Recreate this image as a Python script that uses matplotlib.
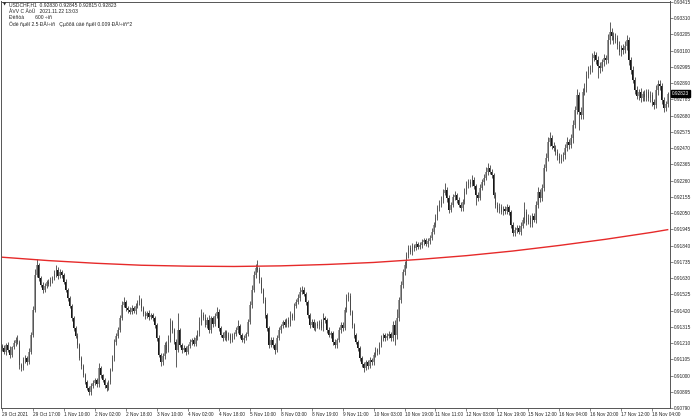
import numpy as np
import matplotlib
matplotlib.use("Agg")
import matplotlib.pyplot as plt
import matplotlib.transforms as mtransforms

plt.rcParams['font.family'] = ['Liberation Sans', 'DejaVu Sans']

# USDCHF H1, closes in points (price * 1e5), one per hourly bar
closes = [
    91178, 91152, 91197, 91165, 91133, 91184, 91210, 91230, 91217, 91068, 91049, 91100, 91113, 91087, 91152,
    91262, 91424, 91650, 91715, 91631, 91585, 91553, 91579, 91605, 91592, 91618, 91631, 91656, 91682, 91643,
    91669, 91650, 91605, 91553, 91501, 91450, 91372, 91307, 91256, 91197, 91113, 91062, 91003, 90958, 90919,
    90893, 90932, 90952, 90971, 90945, 91049, 91003, 90971, 90939, 90919, 90958, 91036, 91113, 91217, 91256,
    91294, 91372, 91456, 91475, 91437, 91424, 91411, 91437, 91417, 91450, 91469, 91488, 91437, 91398, 91385,
    91404, 91378, 91391, 91372, 91327, 91243, 91133, 91087, 91126, 91197, 91165, 91230, 91346, 91294, 91217,
    91165, 91294, 91197, 91165, 91178, 91152, 91191, 91217, 91230, 91204, 91243, 91268, 91346, 91391, 91372,
    91327, 91359, 91294, 91372, 91333, 91385, 91411, 91307, 91262, 91243, 91281, 91243, 91262, 91230, 91256,
    91268, 91294, 91320, 91262, 91230, 91243, 91268, 91346, 91456, 91553, 91650, 91695, 91682, 91618, 91553,
    91488, 91391, 91307, 91197, 91230, 91197, 91165, 91243, 91294, 91320, 91346, 91327, 91359, 91333, 91391,
    91372, 91450, 91475, 91501, 91540, 91553, 91527, 91475, 91391, 91327, 91346, 91307, 91333, 91320, 91346,
    91307, 91372, 91359, 91294, 91262, 91275, 91217, 91197, 91230, 91294, 91327, 91307, 91424, 91501, 91514,
    91411, 91327, 91262, 91217, 91178, 91113, 91075, 91049, 91087, 91062, 91100, 91087, 91133, 91165, 91152,
    91197, 91243, 91262, 91243, 91256, 91268, 91243, 91327, 91262, 91372, 91488, 91585, 91669, 91715, 91779,
    91825, 91799, 91838, 91825, 91850, 91831, 91844, 91863, 91876, 91850, 91870, 91889, 91928, 91973, 92019,
    92083, 92103, 92135, 92180, 92200, 92148, 92070, 92103, 92154, 92167, 92135, 92103, 92083, 92122, 92187,
    92232, 92251, 92238, 92264, 92225, 92167, 92148, 92212, 92251, 92277, 92316, 92342, 92316, 92296, 92167,
    92103, 92070, 92090, 92057, 92077, 92064, 92090, 92057, 91973, 91921, 91941, 91954, 91928, 91967, 92006,
    92057, 91993, 92019, 91980, 92031, 92006, 92103, 92187, 92148, 92212, 92342, 92406, 92510, 92536, 92484,
    92471, 92445, 92419, 92394, 92406, 92426, 92471, 92510, 92490, 92536, 92620, 92717, 92814, 92704, 92684,
    92833, 92859, 92943, 92975, 92988, 93053, 93072, 93040, 93001, 92988, 93027, 93053, 93040, 93169, 93221,
    93195, 93169, 93182, 93137, 93092, 93118, 93105, 93131, 93169, 93040, 92975, 92911, 92846, 92807, 92833,
    92794, 92820, 92801, 92833, 92794, 92814, 92769, 92749, 92846, 92885, 92872, 92781, 92730, 92756, 92823,
]
# wick lengths above / below the body, points
wick_hi = [
    15, 20, 12, 18, 25, 10, 22, 16, 30, 12, 14, 20, 18, 10, 24,
    20, 26, 40, 38, 15, 12, 22, 18, 14, 20, 16, 12, 25, 30, 18,
    20, 15, 12, 18, 10, 14, 12, 16, 10, 20, 14, 12, 10, 16, 12,
    14, 18, 22, 12, 16, 30, 14, 10, 12, 16, 12, 14, 18, 22, 16,
    20, 18, 24, 30, 14, 12, 18, 20, 12, 16, 22, 30, 14, 12, 18,
    16, 20, 12, 14, 10, 12, 16, 14, 20, 18, 24, 30, 26, 16, 14,
    20, 110, 16, 14, 18, 12, 16, 20, 14, 18, 22, 26, 30, 40, 18,
    24, 20, 30, 16, 14, 22, 32, 18, 14, 20, 16, 14, 18, 12, 20,
    14, 22, 40, 16, 12, 18, 14, 20, 26, 30, 24, 28, 52, 20, 16,
    14, 18, 12, 10, 20, 16, 14, 18, 22, 12, 16, 20, 14, 18, 24,
    16, 20, 22, 26, 30, 24, 18, 14, 12, 16, 20, 18, 14, 22, 16,
    20, 30, 16, 14, 18, 12, 10, 16, 14, 20, 22, 18, 20, 24, 26,
    18, 14, 12, 16, 10, 12, 14, 10, 16, 12, 18, 14, 16, 20, 12,
    18, 22, 16, 14, 20, 18, 16, 24, 30, 60, 20, 26, 22, 28, 20,
    16, 22, 18, 14, 20, 16, 18, 22, 14, 16, 20, 18, 24, 20, 26,
    22, 30, 24, 28, 45, 20, 16, 18, 22, 26, 14, 18, 16, 20, 24,
    26, 22, 20, 30, 18, 16, 20, 24, 22, 26, 30, 32, 22, 18, 16,
    20, 18, 24, 16, 22, 18, 20, 14, 16, 20, 18, 22, 16, 24, 20,
    65, 20, 24, 18, 22, 20, 26, 30, 22, 28, 26, 32, 30, 40, 20,
    24, 20, 18, 22, 26, 20, 24, 30, 22, 28, 30, 26, 40, 22, 30,
    26, 30, 24, 28, 22, 30, 26, 22, 28, 24, 20, 26, 22, 36, 65,
    28, 24, 30, 22, 26, 20, 24, 30, 33, 22, 18, 24, 20, 26, 22,
    24, 20, 26, 22, 18, 24, 20, 22, 30, 26, 24, 18, 22, 20, 12,
]
wick_lo = [
    18, 12, 22, 15, 20, 14, 10, 18, 12, 25, 20, 14, 16, 22, 12,
    10, 14, 12, 16, 20, 14, 18, 12, 16, 10, 14, 18, 12, 16, 20,
    14, 18, 12, 16, 20, 14, 18, 22, 16, 20, 14, 18, 12, 16, 14,
    20, 18, 14, 12, 16, 20, 18, 14, 22, 16, 14, 12, 10, 16, 18,
    14, 12, 16, 14, 20, 18, 12, 16, 14, 18, 12, 16, 20, 14, 18,
    12, 16, 14, 18, 22, 20, 14, 24, 18, 16, 20, 12, 16, 18, 14,
    110, 16, 14, 20, 12, 18, 16, 14, 18, 12, 16, 14, 12, 18, 16,
    14, 20, 16, 18, 22, 14, 12, 18, 16, 20, 14, 18, 16, 20, 14,
    18, 12, 16, 20, 14, 18, 16, 12, 14, 18, 16, 20, 14, 18, 22,
    20, 16, 22, 18, 14, 20, 26, 16, 14, 18, 12, 16, 14, 20, 16,
    14, 12, 16, 14, 18, 12, 16, 20, 22, 18, 16, 14, 20, 12, 18,
    14, 16, 20, 18, 14, 22, 18, 20, 16, 14, 18, 16, 12, 14, 18,
    20, 18, 22, 16, 20, 18, 22, 26, 16, 20, 14, 18, 16, 14, 20,
    16, 14, 18, 20, 16, 14, 18, 20, 64, 24, 18, 22, 16, 20, 18,
    16, 14, 20, 18, 16, 14, 12, 18, 16, 14, 20, 18, 16, 14, 12,
    16, 18, 14, 20, 16, 24, 22, 14, 16, 18, 20, 16, 22, 18, 16,
    14, 18, 16, 12, 20, 64, 18, 16, 14, 20, 16, 18, 14, 16, 18,
    20, 16, 18, 14, 16, 20, 18, 16, 22, 18, 16, 20, 14, 18, 16,
    18, 22, 16, 20, 18, 16, 20, 22, 24, 18, 20, 22, 18, 24, 20,
    22, 18, 24, 20, 18, 22, 26, 20, 24, 18, 30, 22, 26, 116, 28,
    24, 20, 26, 22, 28, 24, 20, 26, 77, 30, 22, 26, 24, 20, 28,
    24, 28, 22, 26, 20, 24, 28, 22, 26, 30, 24, 20, 26, 22, 24,
    28, 22, 26, 24, 20, 28, 24, 26, 22, 30, 24, 28, 26, 22, 20,
]
first_open = 91190

# regression curve (red), sampled at bar indices
reg_idx = [0, 24, 48, 72, 96, 120, 144, 168, 192, 216, 240, 264, 288, 312, 336, 344]
reg_val = [0.91765, 0.91743, 0.91726, 0.91713, 0.91707, 0.91705, 0.91709, 0.91718,
           0.91731, 0.91751, 0.91775, 0.91805, 0.91841, 0.91881, 0.91926, 0.91943]

time_labels = ["29 Oct 2021", "29 Oct 17:00", "1 Nov 10:00", "2 Nov 02:00", "2 Nov 18:00",
               "3 Nov 10:00", "4 Nov 02:00", "4 Nov 18:00", "5 Nov 10:00", "8 Nov 03:00",
               "8 Nov 19:00", "9 Nov 11:00", "10 Nov 03:00", "10 Nov 19:00", "11 Nov 11:00",
               "12 Nov 03:00", "12 Nov 19:00", "15 Nov 12:00", "16 Nov 04:00", "16 Nov 20:00",
               "17 Nov 12:00", "18 Nov 04:00"]
label_every = 16
price_ticks = [0.90790, 0.90895, 0.91000, 0.91105, 0.91210, 0.91315, 0.91420, 0.91525,
               0.91630, 0.91735, 0.91840, 0.91945, 0.92050, 0.92155, 0.92260, 0.92365,
               0.92470, 0.92575, 0.92680, 0.92785, 0.92890, 0.92995, 0.93100, 0.93205,
               0.93310, 0.93415]
last_price = 0.92823
header = ["USDCHF,H1  0.92830 0.92845 0.92815 0.92823",
          "ÀVV C ÀöÜ   2021.11.22 13:03",
          "Ðèñòà        600 ÷íñ",
          "Ödè ñµêî 2.5 ÐÅ/÷íñ   Çµõõã ùäè ñµêî 0.009 ÐÅ/÷íñ^2"]

c = np.array(closes) / 1e5
o = np.concatenate([[first_open / 1e5], c[:-1]])
hi = np.maximum(o, c) + np.array(wick_hi) / 1e5
lo = np.minimum(o, c) - np.array(wick_lo) / 1e5
x = np.arange(len(c))

fig = plt.figure(figsize=(6.92, 4.20), dpi=100)
ax = fig.add_axes([1 / 692, 12 / 420, 669 / 692, 406.5 / 420])
ax.set_xlim(-0.52, 345.2)
ax.set_ylim(0.90790, 0.934182)

ax.vlines(x, lo, hi, color='#505050', lw=0.65)
up = c >= o
body = np.maximum(np.abs(c - o), 0.00002)
ax.bar(x, body, bottom=np.minimum(o, c), width=0.7,
       color=np.where(up, '#9c9c9c', '#151515'), linewidth=0)

ax.plot(reg_idx, reg_val, color='#e62a2a', lw=1.0)

for s in ax.spines.values():
    s.set_color('#555555')
    s.set_linewidth(0.7)

ax.yaxis.tick_right()
ax.set_yticks(price_ticks)
ax.set_yticklabels(['%.5f' % v for v in price_ticks])
ax.set_xticks(np.arange(len(time_labels)) * label_every)
ax.set_xticklabels(time_labels, ha='left')
ax.tick_params(axis='both', length=2, width=0.5, color='#555555', labelsize=3.4,
               labelcolor='#222222', pad=1)

tr = mtransforms.blended_transform_factory(ax.transAxes, ax.transData)
ax.text(1.003, last_price, '%.5f' % last_price, transform=tr, fontsize=3.4, color='white',
        va='center', ha='left', clip_on=False,
        bbox=dict(boxstyle='square,pad=0.25', fc='black', ec='black'))

fig.text(3 / 692, 1 - 4.5 / 420, '▼', fontsize=3, color='#222222', va='center',
         family=['DejaVu Sans'])
for k, line in enumerate(header):
    fig.text(9 / 692, 1 - (4.5 + 6.6 * k) / 420, line, fontsize=3.6, color='#222222', va='center')

fig.savefig('out.png', dpi=100)
